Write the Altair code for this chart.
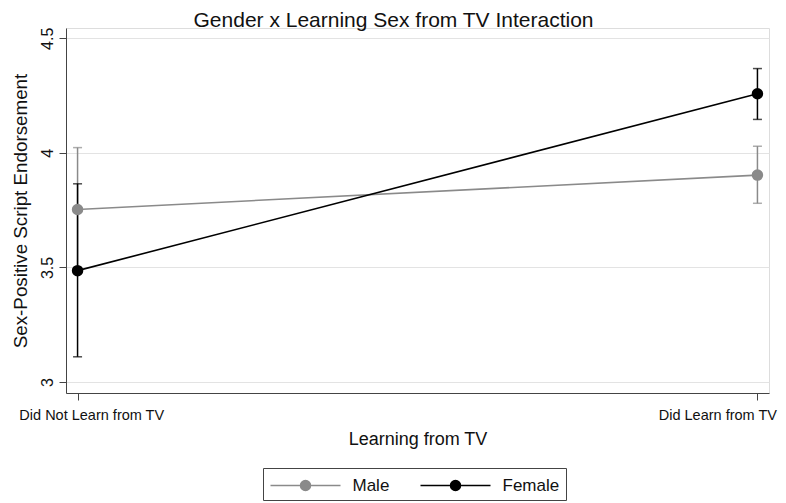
import altair as alt
import pandas as pd

categories = ["Did Not Learn from TV", "Did Learn from TV"]
genders = ["Male", "Female"]
male_mean = [3.753, 3.903]
male_lo = [3.483, 3.780]
male_hi = [4.023, 4.029]
female_mean = [3.486, 4.258]
female_lo = [3.110, 4.146]
female_hi = [3.865, 4.368]
y_ticks = [3, 3.5, 4, 4.5]
colors = ["#8a8a8a", "#000000"]

rows = []
for g, m, lo, hi in [("Male", male_mean, male_lo, male_hi),
                     ("Female", female_mean, female_lo, female_hi)]:
    for i, c in enumerate(categories):
        rows.append({"cat": c, "gender": g, "mean": m[i], "lo": lo[i], "hi": hi[i]})
df = pd.DataFrame(rows)

FONT = "Liberation Sans"

x_axis = alt.Axis(
    title="Learning from TV", titleFont=FONT, titleFontSize=18, titleFontWeight="normal",
    titleColor="#111", titlePadding=9,
    labelFont=FONT, labelFontSize=14.5, labelColor="#111", labelAngle=0, labelPadding=8,
    labelAlign={"condition": {"test": "datum.index == 0", "value": "left"}, "value": "right"},
    labelOffset={"condition": {"test": "datum.index == 0", "value": -58.7}, "value": 19},
    grid=False, domainColor="#444", tickColor="#444", tickSize=7, labelOverlap=False,
)
y_axis = alt.Axis(
    title="Sex-Positive Script Endorsement", titleFont=FONT, titleFontSize=18.8,
    titleFontWeight="normal", titleColor="#111", titlePadding=9,
    labelFont=FONT, labelFontSize=16, labelColor="#111", labelAngle=-90,
    labelAlign="center", labelBaseline="bottom", labelPadding=4, format="~g",
    values=y_ticks, grid=True, gridColor="#e3e3e3", gridWidth=1,
    domainColor="#444", tickColor="#444", tickSize=7,
)

x_enc = alt.X("cat:N", sort=categories,
              scale=alt.Scale(type="point", padding=0.017), axis=x_axis)
y_scale = alt.Scale(domain=[2.952, 4.545], nice=False, zero=False)
c_scale = alt.Scale(domain=genders, range=colors)

leg = alt.Legend(
    title=None, orient="none", legendX=197, legendY=440, direction="horizontal",
    symbolType="M-1,0L6,0M2,0A0.5,0.5,0,1,1,3,0A0.5,0.5,0,1,1,2,0Z",
    symbolSize=400, symbolStrokeWidth=1.5, symbolOpacity=1,
    labelFont=FONT, labelFontSize=17, labelColor="#111", labelOffset=61,
    columnPadding=28, padding=6.5, strokeColor="#444", fillColor="white",
)

base = alt.Chart(df)

rules = base.mark_rule(strokeWidth=1.5).encode(
    x=x_enc,
    y=alt.Y("lo:Q", scale=y_scale, axis=y_axis),
    y2="hi:Q",
    stroke=alt.Stroke("gender:N", scale=c_scale, legend=leg),
)
caps_lo = base.mark_tick(size=9, thickness=1.5).encode(
    x=x_enc,
    y=alt.Y("lo:Q", scale=y_scale, axis=y_axis),
    color=alt.Color("gender:N", scale=c_scale, legend=None),
)
caps_hi = base.mark_tick(size=9, thickness=1.5).encode(
    x=x_enc,
    y=alt.Y("hi:Q", scale=y_scale, axis=y_axis),
    color=alt.Color("gender:N", scale=c_scale, legend=None),
)
lines = base.mark_line(strokeWidth=1.6).encode(
    x=x_enc,
    y=alt.Y("mean:Q", scale=y_scale, axis=y_axis),
    stroke=alt.Stroke("gender:N", scale=c_scale, legend=leg),
    order=alt.Order("cat:N"),
)
points = base.mark_point(filled=True, size=90, opacity=1).encode(
    x=x_enc,
    y=alt.Y("mean:Q", scale=y_scale, axis=y_axis),
    fill=alt.Fill("gender:N", scale=c_scale, legend=leg),
    stroke=alt.Stroke("gender:N", scale=c_scale, legend=leg),
)

chart = alt.layer(rules, caps_lo, caps_hi, lines, points).properties(
    width=703, height=365,
    title=alt.Title("Gender x Learning Sex from TV Interaction", font=FONT, fontSize=21,
                    fontWeight="normal", color="#111", anchor="middle", dx=-24, offset=-3.5),
    autosize=alt.AutoSizeParams(type="none"),
    padding={"left": 58, "top": 20, "right": 9, "bottom": 108},
).configure_view(strokeWidth=0).configure(background="white")

chart.save("out.html", embed_options={"renderer": "svg", "actions": False})
